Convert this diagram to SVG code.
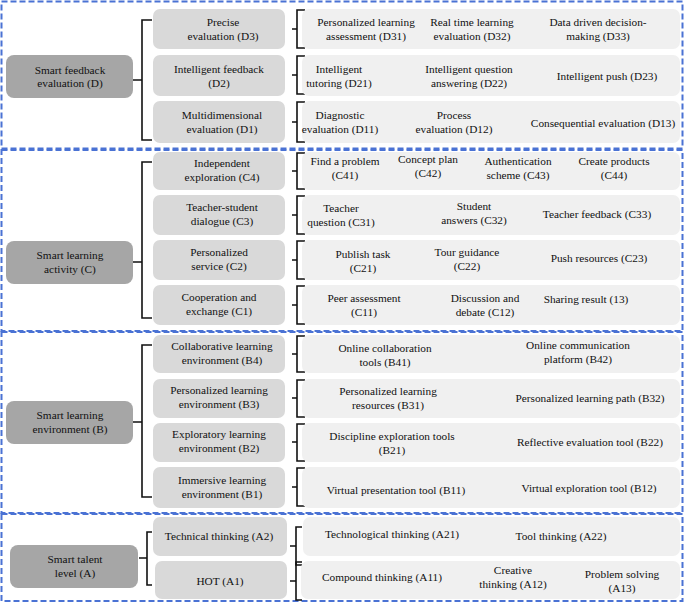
<svg xmlns="http://www.w3.org/2000/svg" width="685" height="603" viewBox="0 0 685 603" font-family="'Liberation Serif','Times New Roman','DejaVu Serif',serif">
<style>
text{font-family:'Liberation Serif','Times New Roman','DejaVu Serif',serif;font-size:11.3px;fill:#111;text-anchor:middle}
.sec{fill:#fff;stroke:#4a72d4;stroke-width:2;stroke-dasharray:6 3}
.main{fill:#a6a6a6}
.mid{fill:#d9d9d9}
.leaf{fill:#f0f0f0}
.br{fill:none;stroke:#111;stroke-width:1.6}
</style>
<rect class="sec" x="1.5" y="1.5" width="681" height="147"/>
<rect class="sec" x="1.5" y="150" width="681" height="181"/>
<rect class="sec" x="1.5" y="332" width="681" height="181"/>
<rect class="sec" x="1.5" y="514" width="681" height="87"/>
<g id="connectors">
<path class="br" d="M152,20 h-10 v120 h10 M142,80 h-9"/>
<path class="br" d="M305,10 h-8 v38 h8 M297,29 h-5"/>
<path class="br" d="M305,56 h-8 v38 h8 M297,75 h-5"/>
<path class="br" d="M305,102 h-8 v40 h8 M297,122 h-5"/>
<path class="br" d="M152,162 h-10 v156 h10 M142,262 h-9"/>
<path class="br" d="M305,153 h-8 v36 h8 M297,171 h-5"/>
<path class="br" d="M305,196 h-8 v38 h8 M297,215 h-5"/>
<path class="br" d="M305,241 h-8 v38 h8 M297,260 h-5"/>
<path class="br" d="M305,286 h-8 v38 h8 M297,305 h-5"/>
<path class="br" d="M152,345 h-10 v152 h10 M142,422 h-9"/>
<path class="br" d="M305,336 h-8 v36 h8 M297,354 h-5"/>
<path class="br" d="M305,380 h-8 v37 h8 M297,398 h-5"/>
<path class="br" d="M305,424 h-8 v37 h8 M297,442 h-5"/>
<path class="br" d="M305,468 h-8 v38 h8 M297,487 h-5"/>
<path class="br" d="M152,532 h-5 v53 h5 M147,558 h-8"/>
<path class="br" d="M302,527 h-6 v38 h6 M296,546 h-6"/>
<path class="br" d="M302,562 h-6 v38 h6 M296,581 h-6"/>
</g>
<g id="D"><rect class="main" x="6" y="55" width="127" height="43" rx="8"/><text x="70" y="74">Smart feedback</text><text x="70" y="87">evaluation (D)</text></g>
<g id="D3"><rect class="mid" x="153" y="9" width="132" height="40" rx="7"/><text x="223" y="26">Precise</text><text x="223" y="40">evaluation (D3)</text></g>
<g id="D2"><rect class="mid" x="153" y="55" width="132" height="41" rx="7"/><text x="219" y="73">Intelligent feedback</text><text x="219" y="87">(D2)</text></g>
<g id="D1"><rect class="mid" x="153" y="101" width="132" height="42" rx="7"/><text x="222" y="119">Multidimensional</text><text x="222" y="133">evaluation (D1)</text></g>
<g id="D3L"><rect class="leaf" x="302" y="9" width="378" height="40" rx="7"/><text x="366" y="26">Personalized learning</text><text x="366" y="40">assessment (D31)</text><text x="472" y="26">Real time learning</text><text x="472" y="40">evaluation (D32)</text><text x="598" y="26">Data driven decision-</text><text x="598" y="40">making (D33)</text></g>
<g id="D2L"><rect class="leaf" x="302" y="55" width="378" height="41" rx="7"/><text x="339" y="73">Intelligent</text><text x="339" y="87">tutoring (D21)</text><text x="469" y="73">Intelligent question</text><text x="469" y="87">answering (D22)</text><text x="607" y="80">Intelligent push (D23)</text></g>
<g id="D1L"><rect class="leaf" x="302" y="101" width="378" height="42" rx="7"/><text x="340" y="119">Diagnostic</text><text x="340" y="133">evaluation (D11)</text><text x="454" y="119">Process</text><text x="454" y="133">evaluation (D12)</text><text x="603" y="127">Consequential evaluation (D13)</text></g>
<g id="C"><rect class="main" x="6" y="241" width="127" height="43" rx="8"/><text x="70" y="259">Smart learning</text><text x="70" y="273">activity (C)</text></g>
<g id="C4"><rect class="mid" x="153" y="152" width="132" height="38" rx="7"/><text x="222" y="167">Independent</text><text x="222" y="181">exploration (C4)</text></g>
<g id="C3"><rect class="mid" x="153" y="195" width="132" height="40" rx="7"/><text x="222" y="211">Teacher-student</text><text x="222" y="225">dialogue (C3)</text></g>
<g id="C2"><rect class="mid" x="153" y="240" width="132" height="40" rx="7"/><text x="219" y="256">Personalized</text><text x="219" y="270">service (C2)</text></g>
<g id="C1"><rect class="mid" x="153" y="285" width="132" height="40" rx="7"/><text x="219" y="301">Cooperation and</text><text x="219" y="315">exchange (C1)</text></g>
<g id="C4L"><rect class="leaf" x="302" y="152" width="378" height="38" rx="7"/><text x="345" y="165">Find a problem</text><text x="345" y="179">(C41)</text><text x="428" y="163">Concept plan</text><text x="428" y="177">(C42)</text><text x="518" y="165">Authentication</text><text x="518" y="179">scheme (C43)</text><text x="614" y="165">Create products</text><text x="614" y="179">(C44)</text></g>
<g id="C3L"><rect class="leaf" x="302" y="195" width="378" height="40" rx="7"/><text x="341" y="212">Teacher</text><text x="341" y="226">question (C31)</text><text x="474" y="210">Student</text><text x="474" y="224">answers (C32)</text><text x="597" y="218">Teacher feedback (C33)</text></g>
<g id="C2L"><rect class="leaf" x="302" y="240" width="378" height="40" rx="7"/><text x="363" y="258">Publish task</text><text x="363" y="272">(C21)</text><text x="467" y="256">Tour guidance</text><text x="467" y="270">(C22)</text><text x="599" y="262">Push resources (C23)</text></g>
<g id="C1L"><rect class="leaf" x="302" y="285" width="378" height="40" rx="7"/><text x="364" y="302">Peer assessment</text><text x="364" y="316">(C11)</text><text x="485" y="302">Discussion and</text><text x="485" y="316">debate (C12)</text><text x="586" y="303">Sharing result (13)</text></g>
<g id="B"><rect class="main" x="6" y="401" width="127" height="43" rx="8"/><text x="70" y="419">Smart learning</text><text x="70" y="433">environment (B)</text></g>
<g id="B4"><rect class="mid" x="153" y="335" width="132" height="38" rx="7"/><text x="222" y="350">Collaborative learning</text><text x="222" y="364">environment (B4)</text></g>
<g id="B3"><rect class="mid" x="153" y="379" width="132" height="39" rx="7"/><text x="219" y="394">Personalized learning</text><text x="219" y="408">environment (B3)</text></g>
<g id="B2"><rect class="mid" x="153" y="423" width="132" height="39" rx="7"/><text x="219" y="438">Exploratory learning</text><text x="219" y="452">environment (B2)</text></g>
<g id="B1"><rect class="mid" x="153" y="467" width="132" height="41" rx="7"/><text x="222" y="484">Immersive learning</text><text x="222" y="498">environment (B1)</text></g>
<g id="B4L"><rect class="leaf" x="302" y="335" width="378" height="38" rx="7"/><text x="385" y="352">Online collaboration</text><text x="385" y="366">tools (B41)</text><text x="578" y="349">Online communication</text><text x="578" y="363">platform (B42)</text></g>
<g id="B3L"><rect class="leaf" x="302" y="379" width="378" height="39" rx="7"/><text x="388" y="395">Personalized learning</text><text x="388" y="409">resources (B31)</text><text x="590" y="402">Personalized learning path (B32)</text></g>
<g id="B2L"><rect class="leaf" x="302" y="423" width="378" height="39" rx="7"/><text x="392" y="440">Discipline exploration tools</text><text x="392" y="454">(B21)</text><text x="590" y="446">Reflective evaluation tool (B22)</text></g>
<g id="B1L"><rect class="leaf" x="302" y="467" width="378" height="41" rx="7"/><text x="396" y="494">Virtual presentation tool (B11)</text><text x="589" y="492">Virtual exploration tool (B12)</text></g>
<g id="A"><rect class="main" x="10" y="545" width="128" height="43" rx="8"/><text x="75" y="563">Smart talent</text><text x="75" y="577">level (A)</text></g>
<g id="A2"><rect class="mid" x="153" y="517" width="134" height="39" rx="7"/><text x="219" y="540">Technical thinking (A2)</text></g>
<g id="A1"><rect class="mid" x="155" y="561" width="132" height="38" rx="7"/><text x="220" y="585">HOT (A1)</text></g>
<g id="A2L"><rect class="leaf" x="303" y="517" width="377" height="39" rx="7"/><text x="392" y="538">Technological thinking (A21)</text><text x="561" y="540">Tool thinking (A22)</text></g>
<g id="A1L"><rect class="leaf" x="301" y="561" width="379" height="38" rx="7"/><text x="382" y="581">Compound thinking (A11)</text><text x="513" y="574">Creative</text><text x="513" y="588">thinking (A12)</text><text x="622" y="578">Problem solving</text><text x="622" y="592">(A13)</text></g>
</svg>
